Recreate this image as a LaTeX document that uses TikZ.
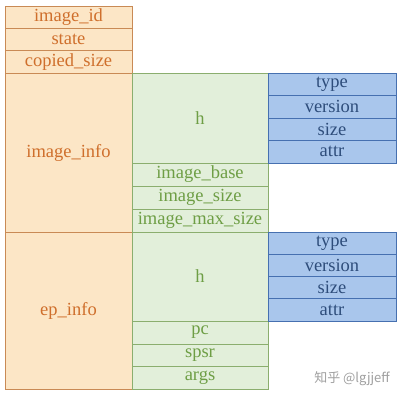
\documentclass[tikz,border=0pt]{standalone}
\usepackage{fontspec}
\setmainfont{Liberation Serif}
\newfontfamily\cjkfont{Noto Sans CJK SC}
\definecolor{ofill}{HTML}{FCE6C6}
\definecolor{oline}{HTML}{C98A55}
\definecolor{otext}{HTML}{CF6F2C}
\definecolor{gfill}{HTML}{E2EFDA}
\definecolor{gline}{HTML}{8BAE6E}
\definecolor{gtext}{HTML}{6E9E45}
\definecolor{bfill}{HTML}{A9C6EC}
\definecolor{bline}{HTML}{4670B0}
\definecolor{btext}{HTML}{2E4D7B}
\definecolor{wmark}{HTML}{A0A0A0}
\tikzset{
  cell/.style={draw, rectangle, anchor=north west, inner sep=0pt, outer sep=0pt, line width=0.8pt, font=\fontsize{18.5}{20}\selectfont},
  ocell/.style={cell, fill=ofill, draw=oline, text=otext, minimum width=127pt},
  gcell/.style={cell, fill=gfill, draw=gline, text=gtext, minimum width=136pt},
  bcell/.style={cell, fill=bfill, draw=bline, text=btext, minimum width=128pt},
}
\begin{document}
\begin{tikzpicture}[x=1pt,y=-1pt]
\useasboundingbox (0,0) rectangle (403,400);
\fill[white] (0,0) rectangle (403,400);
% orange column
\node[ocell, minimum height=22pt] (imgid) at (5,6) {image\_id};
\node[ocell, minimum height=22.5pt] (state) at (5,28) {state};
\node[ocell, minimum height=22.5pt] (copied) at (5,50.5) {copied\_size};
\node[ocell, minimum height=159pt] (iinfo) at (5,73) {image\_info};
\node[ocell, minimum height=157pt] (epinfo) at (5,232) {ep\_info};
% green column, image_info
\node[gcell, minimum height=90pt] (h1) at (132,73) {h};
\node[gcell, minimum height=23pt] (ibase) at (132,163) {image\_base};
\node[gcell, minimum height=23pt] (isize) at (132,186) {image\_size};
\node[gcell, minimum height=23pt] (imax) at (132,209) {image\_max\_size};
% green column, ep_info
\node[gcell, minimum height=89pt] (h2) at (132,232) {h};
\node[gcell, minimum height=23pt] (pc) at (132,321) {pc};
\node[gcell, minimum height=22.5pt] (spsr) at (132,344) {spsr};
\node[gcell, minimum height=22.5pt] (args) at (132,366.5) {args};
% blue column, first header
\node[bcell, minimum height=22.5pt] (type1) at (268,73) {type};
\node[bcell, minimum height=22.5pt] (ver1) at (268,95.5) {version};
\node[bcell, minimum height=22.5pt] (size1) at (268,118) {size};
\node[bcell, minimum height=22.5pt] (attr1) at (268,140.5) {attr};
% blue column, second header
\node[bcell, minimum height=22.25pt] (type2) at (268,232) {type};
\node[bcell, minimum height=22.25pt] (ver2) at (268,254.25) {version};
\node[bcell, minimum height=22.25pt] (size2) at (268,276.5) {size};
\node[bcell, minimum height=22.25pt] (attr2) at (268,298.75) {attr};
% watermark
\node[text=wmark, font=\cjkfont\fontsize{13}{15}\selectfont, inner sep=0pt] (wm) at (352,379) {知乎 @lgjjeff};
\end{tikzpicture}
\end{document}
